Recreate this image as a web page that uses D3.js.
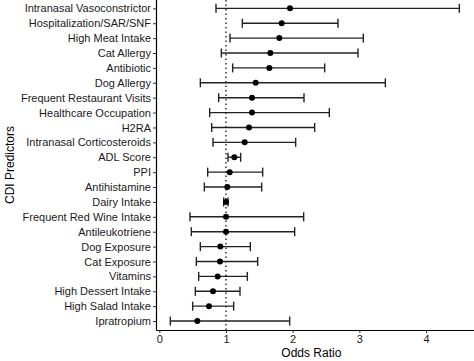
<!DOCTYPE html>
<html>
<head>
<meta charset="utf-8">
<script src="https://cdn.jsdelivr.net/npm/d3@7"></script>
<style>
  body { margin: 0; background: #fff; }
  text { font-family: "Liberation Sans", Arial, sans-serif; }
</style>
</head>
<body>
<div id="chart"></div>
<script>
var width = 474,
	height = 361;

var predictors = ["Intranasal Vasoconstrictor", "Hospitalization/SAR/SNF", "High Meat Intake",
	"Cat Allergy", "Antibiotic", "Dog Allergy", "Frequent Restaurant Visits",
	"Healthcare Occupation", "H2RA", "Intranasal Corticosteroids", "ADL Score", "PPI",
	"Antihistamine", "Dairy Intake", "Frequent Red Wine Intake", "Antileukotriene",
	"Dog Exposure", "Cat Exposure", "Vitamins", "High Dessert Intake",
	"High Salad Intake", "Ipratropium"];

var odds = [1.96, 1.835, 1.80, 1.665, 1.65, 1.445, 1.39, 1.39, 1.345, 1.28, 1.125, 1.055,
	1.02, 1.0, 1.0, 1.0, 0.915, 0.91, 0.875, 0.805, 0.745, 0.57];
var lower = [0.85, 1.245, 1.06, 0.93, 1.10, 0.615, 0.89, 0.755, 0.785, 0.805, 1.03, 0.725,
	0.675, 0.965, 0.46, 0.48, 0.615, 0.555, 0.59, 0.54, 0.50, 0.165];
var upper = [4.50, 2.68, 3.06, 2.98, 2.48, 3.39, 2.17, 2.55, 2.33, 2.045, 1.22, 1.55,
	1.535, 1.03, 2.165, 2.03, 1.365, 1.475, 1.32, 1.21, 1.115, 1.955];

var xTicks = [0, 1, 2, 3, 4];

var margin = {top: 0, right: 0, left: 156, bottom: 31};

var svg = d3.select("#chart").append("svg")
	.attr("width", width)
	.attr("height", height);

var x = d3.scaleLinear()
	.domain([-0.05, 4.72])
	.range([margin.left, width - margin.right]);

var y = d3.scalePoint()
	.domain(predictors)
	.range([-0.6, height - margin.bottom])
	.padding(0.6);

// reference line at OR = 1
svg.append("line")
	.attr("x1", x(1)).attr("x2", x(1))
	.attr("y1", 0).attr("y2", height - margin.bottom)
	.attr("stroke", "#333")
	.attr("stroke-width", 1.5)
	.attr("stroke-dasharray", "1.5,3");

var rows = predictors.map(function(p, i) {
	return {name: p, or: odds[i], lo: lower[i], hi: upper[i]};
});

var g = svg.selectAll(".row")
	.data(rows)
	.enter().append("g")
	.attr("class", "row");

g.append("line")
	.attr("x1", function(d) { return x(d.lo); })
	.attr("x2", function(d) { return x(d.hi); })
	.attr("y1", function(d) { return y(d.name); })
	.attr("y2", function(d) { return y(d.name); })
	.attr("stroke", "#222")
	.attr("stroke-width", 1.4);

["lo", "hi"].forEach(function(k) {
	g.append("line")
		.attr("x1", function(d) { return x(d[k]); })
		.attr("x2", function(d) { return x(d[k]); })
		.attr("y1", function(d) { return y(d.name) - 4.5; })
		.attr("y2", function(d) { return y(d.name) + 4.5; })
		.attr("stroke", "#222")
		.attr("stroke-width", 1.4);
});

g.append("circle")
	.attr("cx", function(d) { return x(d.or); })
	.attr("cy", function(d) { return y(d.name); })
	.attr("r", 3)
	.attr("fill", "#000");

// axes
var xAxis = svg.append("g")
	.attr("transform", "translate(0," + (height - margin.bottom) + ")")
	.call(d3.axisBottom(x).tickValues(xTicks).tickFormat(d3.format("d"))
		.tickSize(3).tickSizeOuter(0).tickPadding(2));

var yAxis = svg.append("g")
	.attr("transform", "translate(" + margin.left + ",0)")
	.call(d3.axisLeft(y).tickSize(3).tickSizeOuter(0).tickPadding(2));

[xAxis, yAxis].forEach(function(a) {
	a.select(".domain").attr("stroke", "#000").attr("stroke-width", 1.2);
	a.selectAll(".tick line").attr("stroke", "#333");
	a.selectAll(".tick text")
		.attr("fill", "#1a1a1a")
		.style("font-size", "11px")
		.style("font-family", "'Liberation Sans', Arial, sans-serif");
});

svg.append("text")
	.attr("x", x(2.28))
	.attr("y", 357)
	.attr("text-anchor", "middle")
	.style("font-size", "12px")
	.text("Odds Ratio");

svg.append("text")
	.attr("transform", "translate(14," + (height - margin.bottom) / 2 + ") rotate(-90)")
	.attr("text-anchor", "middle")
	.style("font-size", "12px")
	.text("CDI Predictors");
</script>
</body>
</html>
